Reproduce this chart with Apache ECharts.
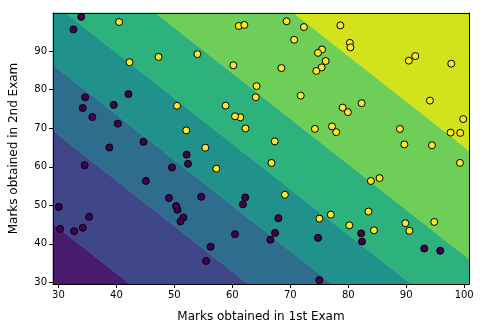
<!DOCTYPE html>
<html><head><meta charset="utf-8">
<script src="https://cdn.jsdelivr.net/npm/echarts@6/dist/echarts.min.js"></script>
<style>html,body{margin:0;padding:0;background:#fff}#c{width:480px;height:329px}</style>
</head><body><div id="c"></div>
<script>
const exam1 = [34.62,30.29,35.85,60.18,79.03,45.08,61.11,75.02,76.10,84.43,95.86,75.01,82.31,69.36,39.54,53.97,69.07,67.95,70.66,76.98,67.37,89.68,50.53,34.21,77.92,62.27,80.19,93.11,61.83,38.79,61.38,85.40,52.11,52.05,40.24,54.64,33.92,64.18,74.79,34.18,83.90,51.55,94.44,82.37,51.05,62.22,77.19,97.77,62.07,91.56,79.94,99.27,90.55,34.52,50.29,49.59,97.65,32.58,74.25,71.80,75.40,35.29,56.25,30.06,44.67,66.56,40.46,49.07,80.28,66.75,32.72,64.04,72.35,60.46,58.84,99.83,47.26,50.46,60.46,82.23,88.91,94.83,67.32,57.24,80.37,68.47,42.08,75.48,78.64,52.35,94.09,90.45,55.48,74.49,89.85,83.49,42.26,99.32,55.34,74.78];
const exam2 = [78.02,43.89,72.90,86.31,75.34,56.32,96.51,46.55,87.42,43.53,38.23,30.60,76.48,97.72,76.04,89.21,52.74,46.68,92.93,47.58,42.84,65.80,48.86,44.21,68.97,69.95,44.82,38.80,50.26,65.00,72.81,57.05,63.13,69.43,71.17,52.21,98.87,80.91,41.57,75.24,56.31,46.86,65.57,40.62,45.82,52.06,70.46,86.73,96.77,88.70,74.16,61.00,43.39,60.40,49.80,59.81,68.86,95.60,69.82,78.45,85.76,47.02,39.26,49.59,66.45,41.09,97.54,51.88,92.12,60.99,43.31,78.03,96.23,73.09,75.86,72.37,88.48,75.81,42.51,42.72,69.80,45.69,66.59,59.51,90.96,85.59,78.84,90.42,96.65,60.77,77.16,87.51,35.57,84.85,45.36,48.38,87.10,68.78,64.93,89.53];
const admitted = [0,0,0,1,1,0,1,1,1,1,0,0,1,1,0,1,1,0,1,1,0,1,0,0,1,1,1,0,0,0,1,1,0,1,0,0,0,1,0,0,1,0,1,0,0,0,1,1,1,1,1,1,1,0,0,0,1,0,1,1,1,0,0,0,0,0,1,0,1,1,0,1,1,1,1,1,1,1,0,0,1,1,1,1,1,1,0,1,1,0,1,1,0,1,1,1,1,1,1,1];
const xTicks = [30,40,50,60,70,80,90,100];
const yTicks = [30,40,50,60,70,80,90];
const xRange = [29.06, 100.83];
const yRange = [29.60, 99.87];
// contour boundaries (probability 0.15 ... 0.9): x where each line meets y = 30
const boundaryX30 = [42.0, 62.4, 76.9, 90.5, 106.0, 129.8];
const boundarySlope = -1.18;
const bandColors = ['#481b6d','#3f4788','#2e6d8e','#21918c','#2db27d','#6ece58','#d2e21b'];

function clipHalf(poly, f) {
  const out = [];
  for (let i = 0; i < poly.length; i++) {
    const a = poly[i], b = poly[(i + 1) % poly.length];
    const fa = f(a), fb = f(b);
    if (fa >= 0) out.push(a);
    if ((fa >= 0) !== (fb >= 0)) {
      const t = fa / (fa - fb);
      out.push([a[0] + t * (b[0] - a[0]), a[1] + t * (b[1] - a[1])]);
    }
  }
  return out;
}
const uOf = p => p[0] + (p[1] - 30) / (-boundarySlope);

function renderBand(params, api) {
  const k = api.value(0);
  let poly = [[xRange[0], yRange[0]], [xRange[1], yRange[0]], [xRange[1], yRange[1]], [xRange[0], yRange[1]]];
  if (k > 0) poly = clipHalf(poly, p => uOf(p) - boundaryX30[k - 1]);
  if (k < boundaryX30.length) poly = clipHalf(poly, p => boundaryX30[k] - uOf(p));
  if (poly.length < 3) return null;
  return {
    type: 'polygon',
    shape: { points: poly.map(p => api.coord(p)) },
    style: { fill: bandColors[k], stroke: bandColors[k], lineWidth: 0.6 }
  };
}

const font = 'DejaVu Sans';
const axisCommon = {
  type: 'value', splitLine: { show: false }, z: 10,
  axisLine: { show: true, onZero: false, lineStyle: { color: '#000', width: 1 } }
};
const chart = echarts.init(document.getElementById('c'), null, { renderer: 'canvas' });
chart.setOption({
  animation: false,
  backgroundColor: '#fff',
  grid: { left: 51, top: 13, width: 418, height: 271, containLabel: false },
  xAxis: [
    Object.assign({}, axisCommon, {
      min: xRange[0], max: xRange[1], position: 'bottom',
      axisTick: { show: true, length: 4, customValues: xTicks, lineStyle: { color: '#000' } },
      axisLabel: { customValues: xTicks, margin: 6, fontSize: 10, color: '#000', fontFamily: font },
      name: 'Marks obtained in 1st Exam', nameLocation: 'middle', nameGap: 27,
      nameTextStyle: { fontSize: 12, color: '#000', fontFamily: font }
    }),
    Object.assign({}, axisCommon, {
      min: xRange[0], max: xRange[1], position: 'top',
      axisTick: { show: false }, axisLabel: { show: false }
    })
  ],
  yAxis: [
    Object.assign({}, axisCommon, {
      min: yRange[0], max: yRange[1], position: 'left',
      axisTick: { show: true, length: 4, customValues: yTicks, lineStyle: { color: '#000' } },
      axisLabel: { customValues: yTicks, margin: 6, fontSize: 10, color: '#000', fontFamily: font },
      name: 'Marks obtained in 2nd Exam', nameLocation: 'middle', nameGap: 33,
      nameTextStyle: { fontSize: 12, color: '#000', fontFamily: font }
    }),
    Object.assign({}, axisCommon, {
      min: yRange[0], max: yRange[1], position: 'right',
      axisTick: { show: false }, axisLabel: { show: false }
    })
  ],
  series: [
    {
      type: 'custom', renderItem: renderBand, z: 1, silent: true,
      data: bandColors.map((c, i) => [i])
    },
    {
      type: 'scatter', z: 5, symbolSize: 7,
      data: exam1.map((x, i) => [x, exam2[i], admitted[i]]),
      itemStyle: {
        color: p => p.data[2] === 1 ? '#fde725' : '#440154',
        borderColor: '#000', borderWidth: 1, opacity: 1
      }
    }
  ]
});
</script>
</body></html>
